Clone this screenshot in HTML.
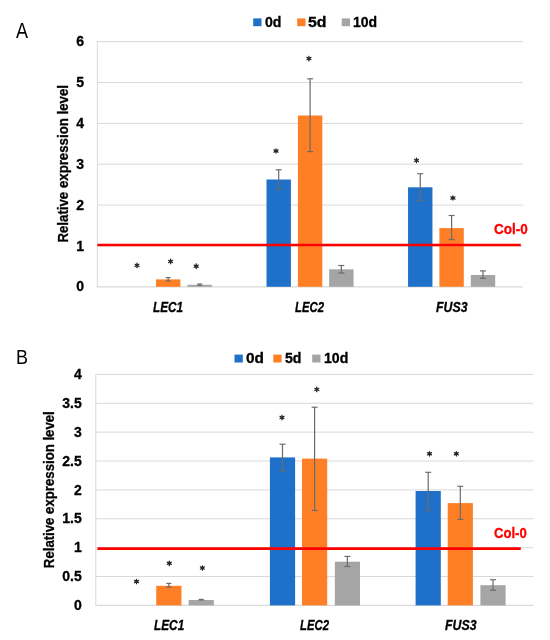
<!DOCTYPE html>
<html><head><meta charset="utf-8"><style>
html,body{margin:0;padding:0;background:#fff;}
body{width:550px;height:640px;overflow:hidden;}
svg{display:block;will-change:transform;font-family:"Liberation Sans",sans-serif;}
</style></head><body>
<svg width="550" height="640" viewBox="0 0 550 640">
<rect width="550" height="640" fill="#fff"/>
<line x1="97.00" y1="245.94" x2="522.80" y2="245.94" stroke="#d9d9d9" stroke-width="1" stroke-linecap="butt"/>
<line x1="97.00" y1="205.08" x2="522.80" y2="205.08" stroke="#d9d9d9" stroke-width="1" stroke-linecap="butt"/>
<line x1="97.00" y1="164.22" x2="522.80" y2="164.22" stroke="#d9d9d9" stroke-width="1" stroke-linecap="butt"/>
<line x1="97.00" y1="123.36" x2="522.80" y2="123.36" stroke="#d9d9d9" stroke-width="1" stroke-linecap="butt"/>
<line x1="97.00" y1="82.50" x2="522.80" y2="82.50" stroke="#d9d9d9" stroke-width="1" stroke-linecap="butt"/>
<line x1="97.00" y1="41.64" x2="522.80" y2="41.64" stroke="#d9d9d9" stroke-width="1" stroke-linecap="butt"/>
<line x1="96.50" y1="286.80" x2="522.80" y2="286.80" stroke="#d9d9d9" stroke-width="1.3" stroke-linecap="butt"/>
<line x1="97.40" y1="41.14" x2="97.40" y2="286.80" stroke="#d9d9d9" stroke-width="1.0" stroke-linecap="butt"/>
<rect x="156.00" y="279.40" width="24.40" height="7.40" fill="#ff7f27"/>
<rect x="187.50" y="284.80" width="24.40" height="2.00" fill="#a5a5a5"/>
<rect x="266.50" y="179.50" width="24.40" height="107.30" fill="#1f70c8"/>
<rect x="297.90" y="115.50" width="24.40" height="171.30" fill="#ff7f27"/>
<rect x="329.15" y="269.30" width="24.40" height="17.50" fill="#a5a5a5"/>
<rect x="408.05" y="187.30" width="24.40" height="99.50" fill="#1f70c8"/>
<rect x="439.40" y="228.10" width="24.40" height="58.70" fill="#ff7f27"/>
<rect x="470.80" y="275.00" width="24.40" height="11.80" fill="#a5a5a5"/>
<line x1="97.40" y1="245.00" x2="520.80" y2="245.00" stroke="#ff0000" stroke-width="2.7" stroke-linecap="butt"/>
<line x1="168.20" y1="277.60" x2="168.20" y2="280.90" stroke="#6a6a6a" stroke-width="1.2" stroke-linecap="butt"/>
<line x1="165.70" y1="277.60" x2="170.70" y2="277.60" stroke="#6a6a6a" stroke-width="1.15" stroke-linecap="butt"/>
<line x1="165.70" y1="280.90" x2="170.70" y2="280.90" stroke="#6a6a6a" stroke-width="1.15" stroke-linecap="butt"/>
<line x1="199.70" y1="284.00" x2="199.70" y2="285.20" stroke="#6a6a6a" stroke-width="1.2" stroke-linecap="butt"/>
<line x1="197.20" y1="284.00" x2="202.20" y2="284.00" stroke="#6a6a6a" stroke-width="1.15" stroke-linecap="butt"/>
<line x1="197.20" y1="285.20" x2="202.20" y2="285.20" stroke="#6a6a6a" stroke-width="1.15" stroke-linecap="butt"/>
<line x1="278.70" y1="169.80" x2="278.70" y2="189.10" stroke="#6a6a6a" stroke-width="1.2" stroke-linecap="butt"/>
<line x1="275.70" y1="169.80" x2="281.70" y2="169.80" stroke="#6a6a6a" stroke-width="1.15" stroke-linecap="butt"/>
<line x1="275.70" y1="189.10" x2="281.70" y2="189.10" stroke="#6a6a6a" stroke-width="1.15" stroke-linecap="butt"/>
<line x1="310.10" y1="78.80" x2="310.10" y2="151.60" stroke="#6a6a6a" stroke-width="1.2" stroke-linecap="butt"/>
<line x1="307.10" y1="78.80" x2="313.10" y2="78.80" stroke="#6a6a6a" stroke-width="1.15" stroke-linecap="butt"/>
<line x1="307.10" y1="151.60" x2="313.10" y2="151.60" stroke="#6a6a6a" stroke-width="1.15" stroke-linecap="butt"/>
<line x1="341.35" y1="265.50" x2="341.35" y2="273.00" stroke="#6a6a6a" stroke-width="1.2" stroke-linecap="butt"/>
<line x1="338.35" y1="265.50" x2="344.35" y2="265.50" stroke="#6a6a6a" stroke-width="1.15" stroke-linecap="butt"/>
<line x1="338.35" y1="273.00" x2="344.35" y2="273.00" stroke="#6a6a6a" stroke-width="1.15" stroke-linecap="butt"/>
<line x1="420.25" y1="173.70" x2="420.25" y2="200.70" stroke="#6a6a6a" stroke-width="1.2" stroke-linecap="butt"/>
<line x1="417.25" y1="173.70" x2="423.25" y2="173.70" stroke="#6a6a6a" stroke-width="1.15" stroke-linecap="butt"/>
<line x1="417.25" y1="200.70" x2="423.25" y2="200.70" stroke="#6a6a6a" stroke-width="1.15" stroke-linecap="butt"/>
<line x1="451.60" y1="215.50" x2="451.60" y2="239.60" stroke="#6a6a6a" stroke-width="1.2" stroke-linecap="butt"/>
<line x1="448.60" y1="215.50" x2="454.60" y2="215.50" stroke="#6a6a6a" stroke-width="1.15" stroke-linecap="butt"/>
<line x1="448.60" y1="239.60" x2="454.60" y2="239.60" stroke="#6a6a6a" stroke-width="1.15" stroke-linecap="butt"/>
<line x1="483.00" y1="270.90" x2="483.00" y2="278.20" stroke="#6a6a6a" stroke-width="1.2" stroke-linecap="butt"/>
<line x1="480.00" y1="270.90" x2="486.00" y2="270.90" stroke="#6a6a6a" stroke-width="1.15" stroke-linecap="butt"/>
<line x1="480.00" y1="278.20" x2="486.00" y2="278.20" stroke="#6a6a6a" stroke-width="1.15" stroke-linecap="butt"/>
<g transform="translate(137.00,265.40)" fill="#262626"><ellipse cx="0" cy="0" rx="3.1" ry="0.8" transform="rotate(-90)"/><ellipse cx="0" cy="0" rx="3.1" ry="0.8" transform="rotate(-30)"/><ellipse cx="0" cy="0" rx="3.1" ry="0.8" transform="rotate(-150)"/></g>
<g transform="translate(170.60,261.40)" fill="#262626"><ellipse cx="0" cy="0" rx="3.1" ry="0.8" transform="rotate(-90)"/><ellipse cx="0" cy="0" rx="3.1" ry="0.8" transform="rotate(-30)"/><ellipse cx="0" cy="0" rx="3.1" ry="0.8" transform="rotate(-150)"/></g>
<g transform="translate(196.20,266.20)" fill="#262626"><ellipse cx="0" cy="0" rx="3.1" ry="0.8" transform="rotate(-90)"/><ellipse cx="0" cy="0" rx="3.1" ry="0.8" transform="rotate(-30)"/><ellipse cx="0" cy="0" rx="3.1" ry="0.8" transform="rotate(-150)"/></g>
<g transform="translate(276.00,151.00)" fill="#262626"><ellipse cx="0" cy="0" rx="3.1" ry="0.8" transform="rotate(-90)"/><ellipse cx="0" cy="0" rx="3.1" ry="0.8" transform="rotate(-30)"/><ellipse cx="0" cy="0" rx="3.1" ry="0.8" transform="rotate(-150)"/></g>
<g transform="translate(308.90,58.60)" fill="#262626"><ellipse cx="0" cy="0" rx="3.1" ry="0.8" transform="rotate(-90)"/><ellipse cx="0" cy="0" rx="3.1" ry="0.8" transform="rotate(-30)"/><ellipse cx="0" cy="0" rx="3.1" ry="0.8" transform="rotate(-150)"/></g>
<g transform="translate(416.50,160.40)" fill="#262626"><ellipse cx="0" cy="0" rx="3.1" ry="0.8" transform="rotate(-90)"/><ellipse cx="0" cy="0" rx="3.1" ry="0.8" transform="rotate(-30)"/><ellipse cx="0" cy="0" rx="3.1" ry="0.8" transform="rotate(-150)"/></g>
<g transform="translate(452.90,198.00)" fill="#262626"><ellipse cx="0" cy="0" rx="3.1" ry="0.8" transform="rotate(-90)"/><ellipse cx="0" cy="0" rx="3.1" ry="0.8" transform="rotate(-30)"/><ellipse cx="0" cy="0" rx="3.1" ry="0.8" transform="rotate(-150)"/></g>
<line x1="96.00" y1="576.52" x2="533.40" y2="576.52" stroke="#d9d9d9" stroke-width="1" stroke-linecap="butt"/>
<line x1="96.00" y1="547.65" x2="533.40" y2="547.65" stroke="#d9d9d9" stroke-width="1" stroke-linecap="butt"/>
<line x1="96.00" y1="518.77" x2="533.40" y2="518.77" stroke="#d9d9d9" stroke-width="1" stroke-linecap="butt"/>
<line x1="96.00" y1="489.90" x2="533.40" y2="489.90" stroke="#d9d9d9" stroke-width="1" stroke-linecap="butt"/>
<line x1="96.00" y1="461.02" x2="533.40" y2="461.02" stroke="#d9d9d9" stroke-width="1" stroke-linecap="butt"/>
<line x1="96.00" y1="432.15" x2="533.40" y2="432.15" stroke="#d9d9d9" stroke-width="1" stroke-linecap="butt"/>
<line x1="96.00" y1="403.27" x2="533.40" y2="403.27" stroke="#d9d9d9" stroke-width="1" stroke-linecap="butt"/>
<line x1="96.00" y1="374.40" x2="533.40" y2="374.40" stroke="#d9d9d9" stroke-width="1" stroke-linecap="butt"/>
<line x1="95.50" y1="605.40" x2="533.40" y2="605.40" stroke="#d9d9d9" stroke-width="1.3" stroke-linecap="butt"/>
<line x1="95.80" y1="373.90" x2="95.80" y2="605.40" stroke="#d9d9d9" stroke-width="1.0" stroke-linecap="butt"/>
<rect x="156.25" y="585.80" width="25.20" height="19.60" fill="#ff7f27"/>
<rect x="188.65" y="600.00" width="25.20" height="5.40" fill="#a5a5a5"/>
<rect x="269.90" y="457.40" width="25.20" height="148.00" fill="#1f70c8"/>
<rect x="302.00" y="458.60" width="25.20" height="146.80" fill="#ff7f27"/>
<rect x="334.80" y="561.70" width="25.20" height="43.70" fill="#a5a5a5"/>
<rect x="415.60" y="491.00" width="25.20" height="114.40" fill="#1f70c8"/>
<rect x="447.70" y="503.10" width="25.20" height="102.30" fill="#ff7f27"/>
<rect x="480.40" y="585.20" width="25.20" height="20.20" fill="#a5a5a5"/>
<line x1="97.40" y1="548.60" x2="520.80" y2="548.60" stroke="#ff0000" stroke-width="2.7" stroke-linecap="butt"/>
<line x1="168.85" y1="583.40" x2="168.85" y2="587.20" stroke="#6a6a6a" stroke-width="1.2" stroke-linecap="butt"/>
<line x1="166.35" y1="583.40" x2="171.35" y2="583.40" stroke="#6a6a6a" stroke-width="1.15" stroke-linecap="butt"/>
<line x1="166.35" y1="587.20" x2="171.35" y2="587.20" stroke="#6a6a6a" stroke-width="1.15" stroke-linecap="butt"/>
<line x1="201.25" y1="599.40" x2="201.25" y2="600.00" stroke="#6a6a6a" stroke-width="1.2" stroke-linecap="butt"/>
<line x1="198.75" y1="599.40" x2="203.75" y2="599.40" stroke="#6a6a6a" stroke-width="1.15" stroke-linecap="butt"/>
<line x1="198.75" y1="600.00" x2="203.75" y2="600.00" stroke="#6a6a6a" stroke-width="1.15" stroke-linecap="butt"/>
<line x1="282.50" y1="444.20" x2="282.50" y2="471.00" stroke="#6a6a6a" stroke-width="1.2" stroke-linecap="butt"/>
<line x1="279.50" y1="444.20" x2="285.50" y2="444.20" stroke="#6a6a6a" stroke-width="1.15" stroke-linecap="butt"/>
<line x1="279.50" y1="471.00" x2="285.50" y2="471.00" stroke="#6a6a6a" stroke-width="1.15" stroke-linecap="butt"/>
<line x1="314.60" y1="407.20" x2="314.60" y2="510.50" stroke="#6a6a6a" stroke-width="1.2" stroke-linecap="butt"/>
<line x1="311.60" y1="407.20" x2="317.60" y2="407.20" stroke="#6a6a6a" stroke-width="1.15" stroke-linecap="butt"/>
<line x1="311.60" y1="510.50" x2="317.60" y2="510.50" stroke="#6a6a6a" stroke-width="1.15" stroke-linecap="butt"/>
<line x1="347.40" y1="556.40" x2="347.40" y2="566.50" stroke="#6a6a6a" stroke-width="1.2" stroke-linecap="butt"/>
<line x1="344.40" y1="556.40" x2="350.40" y2="556.40" stroke="#6a6a6a" stroke-width="1.15" stroke-linecap="butt"/>
<line x1="344.40" y1="566.50" x2="350.40" y2="566.50" stroke="#6a6a6a" stroke-width="1.15" stroke-linecap="butt"/>
<line x1="428.20" y1="472.30" x2="428.20" y2="510.30" stroke="#6a6a6a" stroke-width="1.2" stroke-linecap="butt"/>
<line x1="425.20" y1="472.30" x2="431.20" y2="472.30" stroke="#6a6a6a" stroke-width="1.15" stroke-linecap="butt"/>
<line x1="425.20" y1="510.30" x2="431.20" y2="510.30" stroke="#6a6a6a" stroke-width="1.15" stroke-linecap="butt"/>
<line x1="460.30" y1="486.30" x2="460.30" y2="519.40" stroke="#6a6a6a" stroke-width="1.2" stroke-linecap="butt"/>
<line x1="457.30" y1="486.30" x2="463.30" y2="486.30" stroke="#6a6a6a" stroke-width="1.15" stroke-linecap="butt"/>
<line x1="457.30" y1="519.40" x2="463.30" y2="519.40" stroke="#6a6a6a" stroke-width="1.15" stroke-linecap="butt"/>
<line x1="493.00" y1="579.70" x2="493.00" y2="590.20" stroke="#6a6a6a" stroke-width="1.2" stroke-linecap="butt"/>
<line x1="490.00" y1="579.70" x2="496.00" y2="579.70" stroke="#6a6a6a" stroke-width="1.15" stroke-linecap="butt"/>
<line x1="490.00" y1="590.20" x2="496.00" y2="590.20" stroke="#6a6a6a" stroke-width="1.15" stroke-linecap="butt"/>
<g transform="translate(136.50,581.50)" fill="#262626"><ellipse cx="0" cy="0" rx="3.1" ry="0.8" transform="rotate(-90)"/><ellipse cx="0" cy="0" rx="3.1" ry="0.8" transform="rotate(-30)"/><ellipse cx="0" cy="0" rx="3.1" ry="0.8" transform="rotate(-150)"/></g>
<g transform="translate(169.30,563.30)" fill="#262626"><ellipse cx="0" cy="0" rx="3.1" ry="0.8" transform="rotate(-90)"/><ellipse cx="0" cy="0" rx="3.1" ry="0.8" transform="rotate(-30)"/><ellipse cx="0" cy="0" rx="3.1" ry="0.8" transform="rotate(-150)"/></g>
<g transform="translate(202.40,568.10)" fill="#262626"><ellipse cx="0" cy="0" rx="3.1" ry="0.8" transform="rotate(-90)"/><ellipse cx="0" cy="0" rx="3.1" ry="0.8" transform="rotate(-30)"/><ellipse cx="0" cy="0" rx="3.1" ry="0.8" transform="rotate(-150)"/></g>
<g transform="translate(282.00,417.60)" fill="#262626"><ellipse cx="0" cy="0" rx="3.1" ry="0.8" transform="rotate(-90)"/><ellipse cx="0" cy="0" rx="3.1" ry="0.8" transform="rotate(-30)"/><ellipse cx="0" cy="0" rx="3.1" ry="0.8" transform="rotate(-150)"/></g>
<g transform="translate(316.80,389.40)" fill="#262626"><ellipse cx="0" cy="0" rx="3.1" ry="0.8" transform="rotate(-90)"/><ellipse cx="0" cy="0" rx="3.1" ry="0.8" transform="rotate(-30)"/><ellipse cx="0" cy="0" rx="3.1" ry="0.8" transform="rotate(-150)"/></g>
<g transform="translate(429.50,453.80)" fill="#262626"><ellipse cx="0" cy="0" rx="3.1" ry="0.8" transform="rotate(-90)"/><ellipse cx="0" cy="0" rx="3.1" ry="0.8" transform="rotate(-30)"/><ellipse cx="0" cy="0" rx="3.1" ry="0.8" transform="rotate(-150)"/></g>
<g transform="translate(456.30,453.80)" fill="#262626"><ellipse cx="0" cy="0" rx="3.1" ry="0.8" transform="rotate(-90)"/><ellipse cx="0" cy="0" rx="3.1" ry="0.8" transform="rotate(-30)"/><ellipse cx="0" cy="0" rx="3.1" ry="0.8" transform="rotate(-150)"/></g>
<rect x="253.20" y="18.40" width="8.30" height="7.80" fill="#1f70c8"/>
<rect x="297.20" y="18.40" width="8.30" height="7.80" fill="#ff7f27"/>
<rect x="341.70" y="18.40" width="8.30" height="7.80" fill="#a5a5a5"/>
<rect x="234.50" y="354.60" width="8.30" height="7.90" fill="#1f70c8"/>
<rect x="273.30" y="354.60" width="8.30" height="7.90" fill="#ff7f27"/>
<rect x="312.20" y="354.60" width="8.30" height="7.90" fill="#a5a5a5"/>
<text x="16.00" y="38.00" font-size="21.80" font-weight="normal" font-style="normal" text-anchor="start" fill="#000000" textLength="12.03" lengthAdjust="spacingAndGlyphs">A</text>
<text x="16.00" y="364.00" font-size="20.50" font-weight="normal" font-style="normal" text-anchor="start" fill="#000000" textLength="11.98" lengthAdjust="spacingAndGlyphs">B</text>
<text x="265.00" y="27.00" font-size="14.00" font-weight="bold" font-style="normal" text-anchor="start" fill="#000000" textLength="16.42" lengthAdjust="spacingAndGlyphs" stroke="#000000" stroke-width="0.3">0d</text>
<text x="308.00" y="27.00" font-size="14.00" font-weight="bold" font-style="normal" text-anchor="start" fill="#000000" textLength="18.51" lengthAdjust="spacingAndGlyphs" stroke="#000000" stroke-width="0.3">5d</text>
<text x="353.00" y="27.00" font-size="14.00" font-weight="bold" font-style="normal" text-anchor="start" fill="#000000" textLength="24.13" lengthAdjust="spacingAndGlyphs" stroke="#000000" stroke-width="0.3">10d</text>
<text x="246.00" y="363.00" font-size="14.20" font-weight="bold" font-style="normal" text-anchor="start" fill="#000000" textLength="17.97" lengthAdjust="spacingAndGlyphs" stroke="#000000" stroke-width="0.3">0d</text>
<text x="285.00" y="363.00" font-size="14.20" font-weight="bold" font-style="normal" text-anchor="start" fill="#000000" textLength="16.49" lengthAdjust="spacingAndGlyphs" stroke="#000000" stroke-width="0.3">5d</text>
<text x="324.00" y="363.00" font-size="14.20" font-weight="bold" font-style="normal" text-anchor="start" fill="#000000" textLength="24.30" lengthAdjust="spacingAndGlyphs" stroke="#000000" stroke-width="0.3">10d</text>
<text x="153.00" y="312.00" font-size="14.30" font-weight="bold" font-style="italic" text-anchor="start" fill="#000000" textLength="30.01" lengthAdjust="spacingAndGlyphs" stroke="#000000" stroke-width="0.3">LEC1</text>
<text x="295.00" y="312.00" font-size="14.30" font-weight="bold" font-style="italic" text-anchor="start" fill="#000000" textLength="29.01" lengthAdjust="spacingAndGlyphs" stroke="#000000" stroke-width="0.3">LEC2</text>
<text x="436.00" y="312.00" font-size="14.30" font-weight="bold" font-style="italic" text-anchor="start" fill="#000000" textLength="31.48" lengthAdjust="spacingAndGlyphs" stroke="#000000" stroke-width="0.3">FUS3</text>
<text x="154.00" y="630.00" font-size="14.30" font-weight="bold" font-style="italic" text-anchor="start" fill="#000000" textLength="30.21" lengthAdjust="spacingAndGlyphs" stroke="#000000" stroke-width="0.3">LEC1</text>
<text x="300.00" y="630.00" font-size="14.30" font-weight="bold" font-style="italic" text-anchor="start" fill="#000000" textLength="28.97" lengthAdjust="spacingAndGlyphs" stroke="#000000" stroke-width="0.3">LEC2</text>
<text x="445.00" y="630.00" font-size="14.30" font-weight="bold" font-style="italic" text-anchor="start" fill="#000000" textLength="31.58" lengthAdjust="spacingAndGlyphs" stroke="#000000" stroke-width="0.3">FUS3</text>
<text x="494.00" y="234.00" font-size="14.80" font-weight="bold" font-style="normal" text-anchor="start" fill="#ff0000" textLength="33.75" lengthAdjust="spacingAndGlyphs" stroke="#ff0000" stroke-width="0.3">Col-0</text>
<text x="494.00" y="538.00" font-size="14.80" font-weight="bold" font-style="normal" text-anchor="start" fill="#ff0000" textLength="32.76" lengthAdjust="spacingAndGlyphs" stroke="#ff0000" stroke-width="0.3">Col-0</text>
<text x="84.10" y="291.40" font-size="14.00" font-weight="bold" font-style="normal" text-anchor="end" fill="#000000" stroke="#000000" stroke-width="0.3">0</text>
<text x="84.10" y="250.54" font-size="14.00" font-weight="bold" font-style="normal" text-anchor="end" fill="#000000" stroke="#000000" stroke-width="0.3">1</text>
<text x="84.10" y="209.68" font-size="14.00" font-weight="bold" font-style="normal" text-anchor="end" fill="#000000" stroke="#000000" stroke-width="0.3">2</text>
<text x="84.10" y="168.82" font-size="14.00" font-weight="bold" font-style="normal" text-anchor="end" fill="#000000" stroke="#000000" stroke-width="0.3">3</text>
<text x="84.10" y="127.96" font-size="14.00" font-weight="bold" font-style="normal" text-anchor="end" fill="#000000" stroke="#000000" stroke-width="0.3">4</text>
<text x="84.10" y="87.10" font-size="14.00" font-weight="bold" font-style="normal" text-anchor="end" fill="#000000" stroke="#000000" stroke-width="0.3">5</text>
<text x="84.10" y="46.24" font-size="14.00" font-weight="bold" font-style="normal" text-anchor="end" fill="#000000" stroke="#000000" stroke-width="0.3">6</text>
<text x="81.80" y="610.00" font-size="14.00" font-weight="bold" font-style="normal" text-anchor="end" fill="#000000" stroke="#000000" stroke-width="0.3">0</text>
<text x="81.80" y="581.12" font-size="14.00" font-weight="bold" font-style="normal" text-anchor="end" fill="#000000" stroke="#000000" stroke-width="0.3">0.5</text>
<text x="81.80" y="552.25" font-size="14.00" font-weight="bold" font-style="normal" text-anchor="end" fill="#000000" stroke="#000000" stroke-width="0.3">1</text>
<text x="81.80" y="523.38" font-size="14.00" font-weight="bold" font-style="normal" text-anchor="end" fill="#000000" stroke="#000000" stroke-width="0.3">1.5</text>
<text x="81.80" y="494.50" font-size="14.00" font-weight="bold" font-style="normal" text-anchor="end" fill="#000000" stroke="#000000" stroke-width="0.3">2</text>
<text x="81.80" y="465.62" font-size="14.00" font-weight="bold" font-style="normal" text-anchor="end" fill="#000000" stroke="#000000" stroke-width="0.3">2.5</text>
<text x="81.80" y="436.75" font-size="14.00" font-weight="bold" font-style="normal" text-anchor="end" fill="#000000" stroke="#000000" stroke-width="0.3">3</text>
<text x="81.80" y="407.88" font-size="14.00" font-weight="bold" font-style="normal" text-anchor="end" fill="#000000" stroke="#000000" stroke-width="0.3">3.5</text>
<text x="81.80" y="379.00" font-size="14.00" font-weight="bold" font-style="normal" text-anchor="end" fill="#000000" stroke="#000000" stroke-width="0.3">4</text>
<text transform="translate(67.70,163.80) rotate(-90)" x="0" y="0" font-size="14" font-weight="bold" stroke="#000" stroke-width="0.3" text-anchor="middle" textLength="157.50" lengthAdjust="spacingAndGlyphs">Relative expression level</text>
<text transform="translate(53.90,489.70) rotate(-90)" x="0" y="0" font-size="14" font-weight="bold" stroke="#000" stroke-width="0.3" text-anchor="middle" textLength="156.90" lengthAdjust="spacingAndGlyphs">Relative expression level</text>
</svg>
</body></html>
